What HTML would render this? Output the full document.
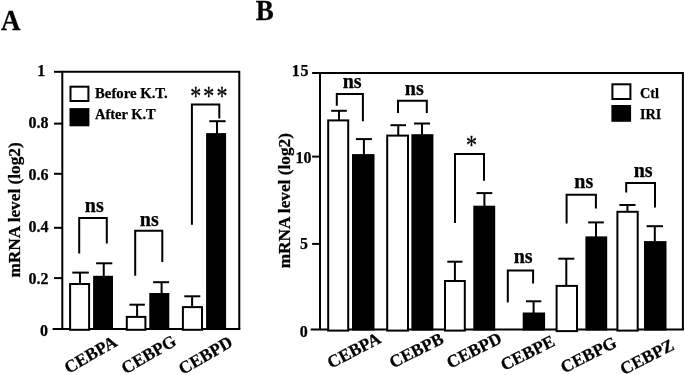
<!DOCTYPE html>
<html><head><meta charset="utf-8"><title>Figure</title>
<style>
html,body{margin:0;padding:0;background:#fff;}
body{width:685px;height:375px;overflow:hidden;}
svg{display:block;font-family:"Liberation Serif","Times New Roman",serif;fill:#000;}
text{stroke:#000;stroke-width:0.25px;}
</style></head><body>
<svg width="685" height="375" viewBox="0 0 685 375">
<rect x="0" y="0" width="685" height="375" fill="#fff"/>
<text transform="translate(0.9,30) scale(1,1.055)" x="0" y="0" font-size="27" font-weight="bold">A</text>
<polyline points="62.3,329.0 62.3,71.8 239.3,71.8 239.3,329.0" fill="none" stroke="#000" stroke-width="2.0" stroke-linejoin="miter"/>
<line x1="52.6" y1="329.0" x2="240.3" y2="329.0" stroke="#000" stroke-width="2.0"/>
<text x="45.2" y="75.75" font-size="16" font-weight="bold" text-anchor="end">1</text>
<line x1="54" y1="123.6" x2="62.3" y2="123.6" stroke="#000" stroke-width="2.0"/>
<text x="48.6" y="127.75" font-size="16" font-weight="bold" text-anchor="end">0.8</text>
<line x1="54" y1="173.8" x2="62.3" y2="173.8" stroke="#000" stroke-width="2.0"/>
<text x="48.6" y="179.75" font-size="16" font-weight="bold" text-anchor="end">0.6</text>
<line x1="54" y1="227.8" x2="62.3" y2="227.8" stroke="#000" stroke-width="2.0"/>
<text x="48.6" y="231.75" font-size="16" font-weight="bold" text-anchor="end">0.4</text>
<line x1="54" y1="278.1" x2="62.3" y2="278.1" stroke="#000" stroke-width="2.0"/>
<text x="48.6" y="283.75" font-size="16" font-weight="bold" text-anchor="end">0.2</text>
<text x="48.1" y="335.75" font-size="16" font-weight="bold" text-anchor="end">0</text>
<line x1="54" y1="71.8" x2="62.3" y2="71.8" stroke="#000" stroke-width="2.0"/>
<text x="20.5" y="209.9" font-size="17.3" font-weight="bold" text-anchor="middle" transform="rotate(-90 20.5 209.9)">mRNA level (log2)</text>
<rect x="70.50" y="86.70" width="17.90" height="14.30" fill="#fff" stroke="#000" stroke-width="2.0"/>
<rect x="70.50" y="109.10" width="17.90" height="16.20" fill="#000" stroke="#000" stroke-width="2.0"/>
<text x="95" y="98.3" font-size="14.75" font-weight="bold" text-anchor="start">Before K.T.</text>
<text x="95" y="119.2" font-size="14.45" font-weight="bold" text-anchor="start">After K.T</text>
<line x1="80.0" y1="272.6" x2="80.0" y2="285.0" stroke="#000" stroke-width="2.0"/>
<line x1="72.3" y1="272.6" x2="88.8" y2="272.6" stroke="#000" stroke-width="2.0"/>
<rect x="70.10" y="284.00" width="19.00" height="45.80" fill="#fff" stroke="#000" stroke-width="2.0"/>
<line x1="103.75" y1="263.3" x2="103.75" y2="276.8" stroke="#000" stroke-width="2.0"/>
<line x1="96.1" y1="263.3" x2="112.3" y2="263.3" stroke="#000" stroke-width="2.0"/>
<rect x="94.10" y="276.80" width="17.90" height="52.20" fill="#000" stroke="#000" stroke-width="2.0"/>
<line x1="137.1" y1="304.7" x2="137.1" y2="317.9" stroke="#000" stroke-width="2.0"/>
<line x1="129.4" y1="304.7" x2="144.9" y2="304.7" stroke="#000" stroke-width="2.0"/>
<rect x="126.80" y="316.90" width="18.60" height="12.90" fill="#fff" stroke="#000" stroke-width="2.0"/>
<line x1="161.6" y1="282.2" x2="161.6" y2="294.0" stroke="#000" stroke-width="2.0"/>
<line x1="153.1" y1="282.2" x2="169.1" y2="282.2" stroke="#000" stroke-width="2.0"/>
<rect x="150.30" y="294.00" width="18.00" height="35.00" fill="#000" stroke="#000" stroke-width="2.0"/>
<line x1="192.1" y1="296.3" x2="192.1" y2="308.1" stroke="#000" stroke-width="2.0"/>
<line x1="184.3" y1="296.3" x2="200.3" y2="296.3" stroke="#000" stroke-width="2.0"/>
<rect x="182.90" y="307.10" width="19.10" height="22.70" fill="#fff" stroke="#000" stroke-width="2.0"/>
<line x1="217.0" y1="121.2" x2="217.0" y2="134.1" stroke="#000" stroke-width="2.0"/>
<line x1="209.3" y1="121.2" x2="225.6" y2="121.2" stroke="#000" stroke-width="2.0"/>
<rect x="207.10" y="134.10" width="18.00" height="194.90" fill="#000" stroke="#000" stroke-width="2.0"/>
<polyline points="79.2,253.6 79.2,217.9 106.8,217.9 106.8,243.6" fill="none" stroke="#000" stroke-width="2.0" stroke-linejoin="miter"/>
<text x="94.3" y="212.1" font-size="20" font-weight="bold" text-anchor="middle">ns</text>
<polyline points="135.2,275.8 135.2,230.8 162.3,230.8 162.3,262" fill="none" stroke="#000" stroke-width="2.0" stroke-linejoin="miter"/>
<text x="149.3" y="225.5" font-size="20" font-weight="bold" text-anchor="middle">ns</text>
<polyline points="191.9,224.8 191.9,104.5 219.3,104.5 219.3,118.4" fill="none" stroke="#000" stroke-width="2.0" stroke-linejoin="miter"/>
<text transform="translate(208.8,92.3) scale(1,1.2)" x="1.08" y="10.38" font-size="22" font-weight="normal" text-anchor="middle" stroke="#000" stroke-width="0.3" letter-spacing="2.16">***</text>
<text x="90.5" y="354.5" font-size="17.4" font-weight="bold" text-anchor="middle" transform="rotate(-30 90.5 354.5)" dy="5.8">CEBPA</text>
<text x="148.6" y="354.4" font-size="17.4" font-weight="bold" text-anchor="middle" transform="rotate(-30 148.6 354.4)" dy="5.8">CEBPG</text>
<text x="205.5" y="355.3" font-size="17.4" font-weight="bold" text-anchor="middle" transform="rotate(-30 205.5 355.3)" dy="5.8">CEBPD</text>
<text transform="translate(255.7,19.75) scale(1,1.07)" x="0" y="0" font-size="27" font-weight="bold">B</text>
<polyline points="320.0,329.5 320.0,73.0 682.9,73.0 682.9,329.5" fill="none" stroke="#000" stroke-width="2.0" stroke-linejoin="miter"/>
<line x1="310.7" y1="329.5" x2="683.9" y2="329.5" stroke="#000" stroke-width="2.0"/>
<line x1="312.1" y1="73.0" x2="320.0" y2="73.0" stroke="#000" stroke-width="2.0"/>
<line x1="312.1" y1="156.6" x2="320.0" y2="156.6" stroke="#000" stroke-width="2.0"/>
<line x1="312.1" y1="243.9" x2="320.0" y2="243.9" stroke="#000" stroke-width="2.0"/>
<text x="309.1" y="75.7" font-size="16" font-weight="bold" text-anchor="end" letter-spacing="0.7">15</text>
<text x="311.5" y="162.9" font-size="16" font-weight="bold" text-anchor="end">10</text>
<text x="307.8" y="249.4" font-size="15.8" font-weight="bold" text-anchor="end">5</text>
<text x="307.8" y="337.0" font-size="16" font-weight="bold" text-anchor="end">0</text>
<text x="290" y="200.7" font-size="17.3" font-weight="bold" text-anchor="middle" transform="rotate(-90 290 200.7)">mRNA level (log2)</text>
<rect x="612.40" y="84.30" width="18.00" height="14.70" fill="#fff" stroke="#000" stroke-width="2.0"/>
<rect x="612.40" y="106.00" width="17.70" height="14.80" fill="#000" stroke="#000" stroke-width="2.0"/>
<text x="639.9" y="98" font-size="14.3" font-weight="bold" text-anchor="start">Ctl</text>
<text x="639.9" y="118.7" font-size="14.3" font-weight="bold" text-anchor="start">IRI</text>
<line x1="339.0" y1="110.8" x2="339.0" y2="121.4" stroke="#000" stroke-width="2.0"/>
<line x1="331.2" y1="110.8" x2="346.8" y2="110.8" stroke="#000" stroke-width="2.0"/>
<rect x="328.20" y="120.40" width="20.00" height="210.20" fill="#fff" stroke="#000" stroke-width="2.0"/>
<line x1="363.9" y1="139.1" x2="363.9" y2="155.1" stroke="#000" stroke-width="2.0"/>
<line x1="355.9" y1="139.1" x2="371.9" y2="139.1" stroke="#000" stroke-width="2.0"/>
<rect x="353.00" y="155.10" width="20.50" height="174.40" fill="#000" stroke="#000" stroke-width="2.0"/>
<line x1="398.25" y1="125.2" x2="398.25" y2="136.6" stroke="#000" stroke-width="2.0"/>
<line x1="390.5" y1="125.2" x2="406" y2="125.2" stroke="#000" stroke-width="2.0"/>
<rect x="387.20" y="135.60" width="20.80" height="195.00" fill="#fff" stroke="#000" stroke-width="2.0"/>
<line x1="422.0" y1="123.5" x2="422.0" y2="135.2" stroke="#000" stroke-width="2.0"/>
<line x1="414" y1="123.5" x2="430" y2="123.5" stroke="#000" stroke-width="2.0"/>
<rect x="412.40" y="135.20" width="20.00" height="194.30" fill="#000" stroke="#000" stroke-width="2.0"/>
<line x1="454.9" y1="261.7" x2="454.9" y2="282.0" stroke="#000" stroke-width="2.0"/>
<line x1="447.3" y1="261.7" x2="462.5" y2="261.7" stroke="#000" stroke-width="2.0"/>
<rect x="445.00" y="281.00" width="19.80" height="49.60" fill="#fff" stroke="#000" stroke-width="2.0"/>
<line x1="484.4" y1="193.1" x2="484.4" y2="206.7" stroke="#000" stroke-width="2.0"/>
<line x1="476.5" y1="193.1" x2="492.3" y2="193.1" stroke="#000" stroke-width="2.0"/>
<rect x="474.30" y="206.70" width="19.90" height="122.80" fill="#000" stroke="#000" stroke-width="2.0"/>
<line x1="533.5999999999999" y1="301.3" x2="533.5999999999999" y2="313.5" stroke="#000" stroke-width="2.0"/>
<line x1="525.9" y1="301.3" x2="541.3" y2="301.3" stroke="#000" stroke-width="2.0"/>
<rect x="523.70" y="313.50" width="20.40" height="16.00" fill="#000" stroke="#000" stroke-width="2.0"/>
<line x1="566.3" y1="258.7" x2="566.3" y2="286.9" stroke="#000" stroke-width="2.0"/>
<line x1="558.3" y1="258.7" x2="574.3" y2="258.7" stroke="#000" stroke-width="2.0"/>
<rect x="556.60" y="285.90" width="20.40" height="45.20" fill="#fff" stroke="#000" stroke-width="2.0"/>
<line x1="596.0" y1="222.4" x2="596.0" y2="237.4" stroke="#000" stroke-width="2.0"/>
<line x1="588.2" y1="222.4" x2="603.8" y2="222.4" stroke="#000" stroke-width="2.0"/>
<rect x="586.40" y="237.40" width="19.80" height="92.10" fill="#000" stroke="#000" stroke-width="2.0"/>
<line x1="627.45" y1="205.0" x2="627.45" y2="212.8" stroke="#000" stroke-width="2.0"/>
<line x1="619.4" y1="205.0" x2="635.5" y2="205.0" stroke="#000" stroke-width="2.0"/>
<rect x="617.40" y="211.80" width="20.30" height="118.80" fill="#fff" stroke="#000" stroke-width="2.0"/>
<line x1="654.8" y1="226.2" x2="654.8" y2="242.1" stroke="#000" stroke-width="2.0"/>
<line x1="646.6" y1="226.2" x2="663.0" y2="226.2" stroke="#000" stroke-width="2.0"/>
<rect x="645.00" y="242.10" width="20.50" height="87.40" fill="#000" stroke="#000" stroke-width="2.0"/>
<polyline points="336.8,105.7 336.8,94.1 362.9,94.1 362.9,121.3" fill="none" stroke="#000" stroke-width="2.0" stroke-linejoin="miter"/>
<text x="352.2" y="88.1" font-size="20" font-weight="bold" text-anchor="middle">ns</text>
<polyline points="398,113 398,100.7 426.8,100.7 426.8,113" fill="none" stroke="#000" stroke-width="2.0" stroke-linejoin="miter"/>
<text x="414.3" y="94.7" font-size="20" font-weight="bold" text-anchor="middle">ns</text>
<polyline points="455,222.9 455,154.0 484,154.0 484,180.7" fill="none" stroke="#000" stroke-width="2.0" stroke-linejoin="miter"/>
<text transform="translate(471.4,141.9) scale(1,1.2)" x="0" y="10.38" font-size="22" font-weight="normal" text-anchor="middle" stroke="#000" stroke-width="0.3">*</text>
<polyline points="507.8,302.6 507.8,270.4 533.1,270.4 533.1,283.4" fill="none" stroke="#000" stroke-width="2.0" stroke-linejoin="miter"/>
<text x="523.2" y="262.9" font-size="20" font-weight="bold" text-anchor="middle">ns</text>
<polyline points="566.6,223.6 566.6,194.8 595.9,194.8 595.9,208.5" fill="none" stroke="#000" stroke-width="2.0" stroke-linejoin="miter"/>
<text x="583.8" y="188.1" font-size="20" font-weight="bold" text-anchor="middle">ns</text>
<polyline points="626.2,192.4 626.2,183.1 655,183.1 655,207.5" fill="none" stroke="#000" stroke-width="2.0" stroke-linejoin="miter"/>
<text x="643.1" y="177.1" font-size="20" font-weight="bold" text-anchor="middle">ns</text>
<text x="353.9" y="350.3" font-size="17.4" font-weight="bold" text-anchor="middle" transform="rotate(-27.5 353.9 350.3)" dy="5.8">CEBPA</text>
<text x="416.3" y="350.3" font-size="17.4" font-weight="bold" text-anchor="middle" transform="rotate(-26.7 416.3 350.3)" dy="5.8">CEBPB</text>
<text x="474.0" y="350.2" font-size="17.4" font-weight="bold" text-anchor="middle" transform="rotate(-26.7 474.0 350.2)" dy="5.8">CEBPD</text>
<text x="527.5" y="352.9" font-size="17.4" font-weight="bold" text-anchor="middle" transform="rotate(-26.5 527.5 352.9)" dy="5.8">CEBPE</text>
<text x="588.4" y="354.8" font-size="17.4" font-weight="bold" text-anchor="middle" transform="rotate(-26.7 588.4 354.8)" dy="5.8">CEBPG</text>
<text x="647.0" y="356.9" font-size="17.4" font-weight="bold" text-anchor="middle" transform="rotate(-27 647.0 356.9)" dy="5.8">CEBPZ</text>
</svg>
</body></html>
